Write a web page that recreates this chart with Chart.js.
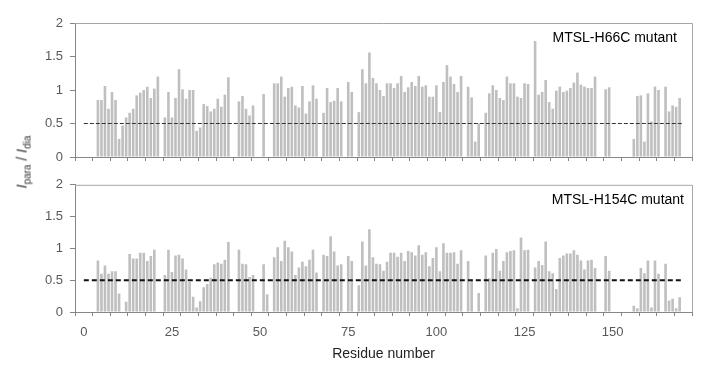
<!DOCTYPE html>
<html>
<head>
<meta charset="utf-8">
<script src="https://cdn.jsdelivr.net/npm/chart.js"></script>
<style>
  body { margin:0; background:#fff; }
  #wrap { position:relative; width:727px; height:366px; overflow:hidden; }
  #top { position:absolute; left:0; top:0; }
  #bottom { position:absolute; left:0; top:170px; }
  #ylab { position:absolute; left:23px; top:162px; transform:translate(-50%,-50%) rotate(-90deg);
          font-family:"Liberation Sans", Arial, sans-serif; font-size:14px; white-space:nowrap; color:#333; }
  #ylab sub { font-size:10px; font-style:normal; }
</style>
</head>
<body>
<div id="wrap">
  <canvas id="top" width="727" height="172"></canvas>
  <canvas id="bottom" width="727" height="196"></canvas>
  <div id="ylab"><i>I</i><sub>para</sub> / <i>I</i><sub>dia</sub></div>
</div>
<script>
// residue numbers 1..170 (categories)
const residues = Array.from({length:170}, (_, i) => i + 1);

// Ipara/Idia, MTSL-H66C mutant (null = no data)
const h66c = [
  null, null, null, 0.85, 0.85, 1.06, 0.72, 0.97, 0.85, 0.27,
  0.47, 0.59, 0.66, 0.72, 0.92, 0.96, 1.00, 1.05, 0.88, 1.02,
  1.20, null, 0.59, 0.97, 0.59, 0.88, 1.31, 1.01, 0.87, 1.00,
  1.00, 0.39, 0.44, 0.79, 0.76, 0.68, 0.72, 0.87, 0.75, 0.93,
  1.19, null, null, 0.83, 0.91, 0.72, 0.62, 0.77, null, null,
  0.94, null, null, 1.10, 1.10, 1.20, 0.90, 1.03, 1.05, 0.77,
  0.74, 1.06, 0.65, 0.83, 1.07, 0.87, null, 0.66, 1.03, 0.82,
  0.84, 1.03, 0.83, null, 1.12, 0.97, null, 0.67, 1.31, 1.10,
  1.56, 1.18, 1.10, 1.00, 0.91, 1.10, 1.10, 1.03, 1.10, 1.21,
  0.97, 1.04, 1.12, 1.06, 1.21, 1.05, 1.07, 0.90, 0.90, 1.07,
  0.67, 1.12, 1.37, 1.20, 1.09, 0.97, 1.21, null, 1.05, 0.89,
  0.23, 0.50, null, 0.66, 0.95, 1.07, 1.00, 0.88, 0.85, 1.20,
  1.10, 1.10, 0.90, 0.88, 1.10, 1.09, null, 1.73, 0.93, 0.97,
  1.15, 0.82, 0.72, 0.99, 1.05, 0.97, 0.99, 1.03, 1.11, 1.26,
  1.08, 1.05, 1.03, 1.03, 1.20, null, null, 1.01, 1.04, null,
  null, null, null, null, null, 0.27, 0.91, 0.92, 0.23, 0.95,
  0.53, 1.05, 1.00, null, 1.05, 0.68, 0.77, 0.75, 0.88, null
];

// Ipara/Idia, MTSL-H154C mutant
const h154c = [
  null, null, null, 0.81, 0.60, 0.73, 0.60, 0.64, 0.64, 0.29,
  null, 0.16, 0.91, 0.84, 0.84, 0.93, 0.93, 0.80, 0.88, 0.98,
  null, null, 0.58, 0.98, 0.63, 0.89, 0.90, 0.84, 0.67, 0.47,
  0.24, 0.07, 0.17, 0.39, 0.44, 0.54, 0.75, 0.78, 0.76, 0.82,
  1.10, null, null, 0.98, 0.76, 0.75, 0.55, 0.58, null, null,
  0.75, 0.28, null, 0.86, 1.02, 0.80, 1.12, 1.02, 0.95, 0.58,
  0.70, 0.79, 0.72, 0.82, 0.98, 0.62, null, 0.90, 0.88, 1.19,
  0.95, 0.73, 0.75, null, 0.88, 0.80, null, 0.42, 1.11, 0.73,
  1.30, 0.86, 0.76, 0.75, 0.65, 0.79, 0.93, 0.93, 0.87, 0.93,
  0.80, 0.96, 0.94, 0.89, 1.05, 0.90, 0.94, 0.72, 0.85, 1.02,
  0.64, 1.08, 0.93, 0.93, 0.94, 0.76, 0.97, null, 0.80, 0.52,
  null, 0.30, null, 0.89, 0.53, 0.93, 0.99, 0.65, 0.80, 0.94,
  0.96, 0.97, 0.06, 1.17, 0.97, 0.98, null, 0.70, 0.80, 0.74,
  1.11, 0.64, 0.61, 0.36, 0.85, 0.89, 0.92, 0.92, 0.97, 0.90,
  0.81, 0.67, 0.81, 0.82, 0.69, null, null, 0.88, 0.65, null,
  null, null, null, null, null, 0.10, 0.06, 0.69, 0.61, 0.81,
  0.07, 0.81, 0.60, null, 0.76, 0.18, 0.21, 0.06, 0.23, null
];

const xRange = [0, 170];
const xTickLabels = [0, 25, 50, 75, 100, 125, 150];
const yTicks = [0, 0.5, 1, 1.5, 2];
const cutoff = 0.5;

const FONT = '"Liberation Sans", Arial, sans-serif';
const AXIS = '#868686';

// box round the plot area + the mutant name in the corner
const frame = {
  id: 'frame',
  afterDraw(chart, args, opts) {
    const {ctx, chartArea: a} = chart;
    ctx.save();
    ctx.strokeStyle = '#a6a6a6';
    ctx.lineWidth = 1;
    ctx.beginPath();
    ctx.moveTo(a.left, a.top + 0.5);
    ctx.lineTo(a.right + 0.5, a.top + 0.5);
    ctx.lineTo(a.right + 0.5, a.bottom);
    ctx.stroke();
    ctx.font = '14px ' + FONT;
    ctx.fillStyle = '#000';
    ctx.textAlign = 'right';
    ctx.textBaseline = 'middle';
    ctx.fillText(opts.text, a.right - opts.dx, a.top + opts.dy);
    ctx.restore();
  }
};

function panel(id, values, name, o){
  const ctx = document.getElementById(id).getContext('2d');
  return new Chart(ctx, {
    type: 'bar',
    data: {
      datasets: [
        {
          type: 'line',
          data: xRange.map(x => ({x: x, y: cutoff})),
          borderColor: o.dashColor,
          borderWidth: o.dashWidth,
          borderDash: o.dash,
          pointRadius: 0,
          order: 0
        },
        {
          data: residues.map((r, i) => ({x: r, y: values[i]})),
          backgroundColor: '#bfbfbf',
          borderWidth: 0,
          barPercentage: 0.74,
          categoryPercentage: 1,
          order: 1
        }
      ]
    },
    options: {
      responsive: false,
      animation: false,
      layout: { padding: {left: 0, right: 35, top: o.padTop, bottom: 0} },
      plugins: {
        legend: {display: false},
        tooltip: {enabled: false},
        frame: {text: name, dx: o.titleDx, dy: 15}
      },
      scales: {
        x: {
          type: 'linear',
          min: xRange[0], max: xRange[1],
          afterFit: s => { s.height = o.xHeight; },
          afterBuildTicks: s => {
            const t = [];
            for (let v = xRange[0]; v <= xRange[1]; v += 5) t.push({value: v});
            s.ticks = t;
          },
          ticks: {
            display: o.showX,
            autoSkip: false,
            maxRotation: 0,
            padding: 9,
            color: '#595959',
            font: {family: FONT, size: 13},
            callback: v => xTickLabels.includes(v) ? String(v) : ''
          },
          grid: {display: true, drawOnChartArea: false, drawTicks: true, tickLength: 4, color: AXIS},
          border: {display: true, color: AXIS},
          title: {
            display: o.showX,
            text: 'Residue number',
            color: '#222',
            font: {family: FONT, size: 14},
            padding: {top: 2, bottom: 3}
          }
        },
        y: {
          min: 0, max: 2,
          afterFit: s => { s.width = 75; },
          afterBuildTicks: s => { s.ticks = yTicks.map(v => ({value: v})); },
          ticks: {
            padding: 7,
            color: '#595959',
            font: {family: FONT, size: 13},
            callback: v => String(v)
          },
          grid: {display: true, drawOnChartArea: false, drawTicks: true, tickLength: 5, color: AXIS},
          border: {display: true, color: AXIS}
        }
      }
    },
    plugins: [frame]
  });
}

panel('top', h66c, 'MTSL-H66C mutant',
  {padTop: 23, xHeight: 15, showX: false, titleDx: 15, dash: [4, 2], dashWidth: 1, dashColor: '#333'});
panel('bottom', h154c, 'MTSL-H154C mutant',
  {padTop: 8, xHeight: 54, showX: true, titleDx: 8, dash: [5, 3], dashWidth: 2, dashColor: '#111'});
</script>
</body>
</html>
